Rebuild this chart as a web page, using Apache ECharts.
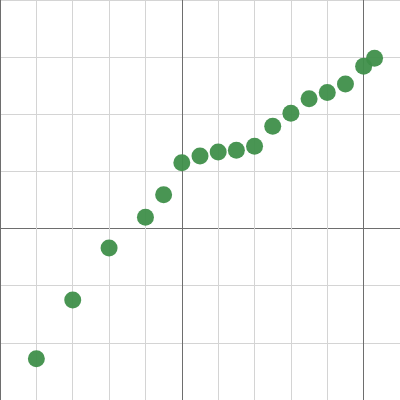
<!DOCTYPE html>
<html><head><meta charset="utf-8">
<script src="https://cdn.jsdelivr.net/npm/echarts@6/dist/echarts.min.js"></script>
<style>html,body{margin:0;padding:0;background:#fff}#c{width:400px;height:400px}</style>
</head><body><div id="c"></div>
<script>
const xValues = [-4, -3, -2, -1, -0.5, 0, 0.5, 1, 1.5, 2, 2.5, 3, 3.5, 4, 4.5, 5, 5.3];
const yValues = [-2.28, -1.25, -0.34, 0.20, 0.59, 1.15, 1.27, 1.34, 1.37, 1.44, 1.79, 2.02, 2.27, 2.38, 2.53, 2.84, 2.98];
const L = '#d4d4d4', D = '#6e6e6e';
const chart = echarts.init(document.getElementById('c'));
chart.setOption({
  animation: false,
  grid: {left: 0, right: 0, top: 0, bottom: 0},
  xAxis: {type: 'value', min: -5, max: 6, interval: 1,
    axisLine: {show: false}, axisTick: {show: false}, axisLabel: {show: false},
    splitLine: {lineStyle: {color: [D, L, L, L, L], width: 1}}},
  yAxis: {type: 'value', min: -3, max: 4, interval: 1,
    axisLine: {show: false}, axisTick: {show: false}, axisLabel: {show: false},
    splitLine: {lineStyle: {color: [L, L, L, D, L, L, L, L], width: 1}}},
  series: [{type: 'scatter', symbolSize: 17,
    itemStyle: {color: '#3f8f4a', opacity: 0.95},
    data: xValues.map((x, i) => [x, yValues[i]])}]
});
</script></body></html>
